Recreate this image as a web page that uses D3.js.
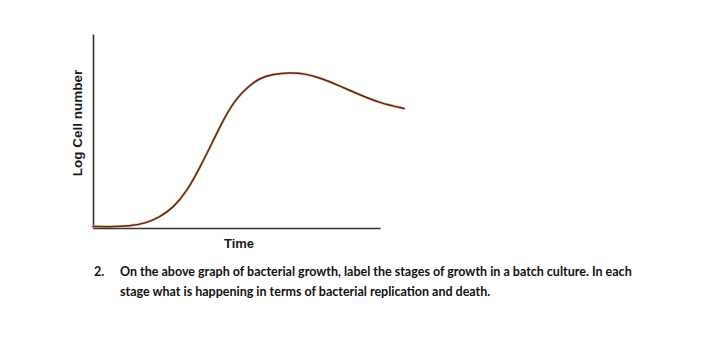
<!DOCTYPE html>
<html>
<head>
<meta charset="utf-8">
<script src="https://cdn.jsdelivr.net/npm/d3@7"></script>
<style>
  html, body { margin: 0; padding: 0; background: #fff; }
  svg { display: block; }
</style>
</head>
<body>
<svg id="chart" width="716" height="363"></svg>
<script>
// Data (time in arbitrary units, log cell number in arbitrary units)
const timeValues = [0, 5.9, 12.9, 18.1, 23.3, 27.9, 32.8, 37.3, 41.5, 45.6, 49.8, 54.0, 58.2, 62.7, 68.6, 73.9, 79.1, 86.1, 93.0, 100, 108.4];
const logCellValues = [0.8, 0.6, 1.0, 2.3, 5.7, 10.3, 19.1, 31.4, 43.8, 56.4, 66.6, 72.8, 77.4, 79.3, 80.1, 79.6, 77.4, 73.2, 68.6, 64.4, 61.6];
const xTickValues = [];
const yTickValues = [];
const xAxisTitle = "Time";
const yAxisTitle = "Log Cell number";
const captionNumber = "2.";
const captionLines = [
  "On the above graph of bacterial growth, label the stages of growth in a batch culture. In each",
  "stage what is happening in terms of bacterial replication and death."
];

const svg = d3.select("#chart");
const x = d3.scaleLinear().domain([0, 100]).range([93, 380]);
const y = d3.scaleLinear().domain([0, 100]).range([228, 34]);

const axisColor = "#333";
const xAxis = svg.append("g").attr("transform", `translate(0,${y(0)})`)
  .call(d3.axisBottom(x).tickValues(xTickValues).tickSizeOuter(0));
const yAxis = svg.append("g").attr("transform", `translate(${x(0)},0)`)
  .call(d3.axisLeft(y).tickValues(yTickValues).tickSizeOuter(0));
[xAxis, yAxis].forEach(g => g.select(".domain").attr("stroke", axisColor).attr("stroke-width", 1.6));

const data = timeValues.map((t, i) => ({ t, v: logCellValues[i] }));
const line = d3.line().x(d => x(d.t)).y(d => y(d.v)).curve(d3.curveBasis);

svg.append("path").datum(data)
  .attr("fill", "none").attr("stroke", "#e2b89c").attr("stroke-width", 2.6)
  .attr("stroke-linecap", "round").attr("d", line);
svg.append("path").datum(data)
  .attr("fill", "none").attr("stroke", "#5e2810").attr("stroke-width", 1.5)
  .attr("stroke-linecap", "round").attr("d", line);

svg.append("text")
  .attr("x", 239).attr("y", 248)
  .attr("text-anchor", "middle")
  .attr("font-family", "Liberation Sans, Arial, sans-serif")
  .attr("font-weight", "bold").attr("font-size", 13).attr("fill", "#1a1a1a")
  .text(xAxisTitle);

svg.append("text")
  .attr("transform", "translate(82,123) rotate(-90)")
  .attr("text-anchor", "middle")
  .attr("font-family", "Liberation Sans, Arial, sans-serif")
  .attr("font-weight", "bold").attr("font-size", 13.5).attr("fill", "#1a1a1a")
  .text(yAxisTitle);

const capFont = "Lato, 'Open Sans', sans-serif";
svg.append("text")
  .attr("x", 94).attr("y", 276)
  .attr("font-family", capFont).attr("font-weight", "bold")
  .attr("font-size", 12.5).attr("fill", "#111")
  .text(captionNumber);
captionLines.forEach((s, i) => {
  svg.append("text")
    .attr("x", 120).attr("y", 276 + i * 20)
    .attr("font-family", capFont).attr("font-weight", "bold")
    .attr("font-size", 12.5).attr("fill", "#111")
    .text(s);
});
</script>
</body>
</html>
